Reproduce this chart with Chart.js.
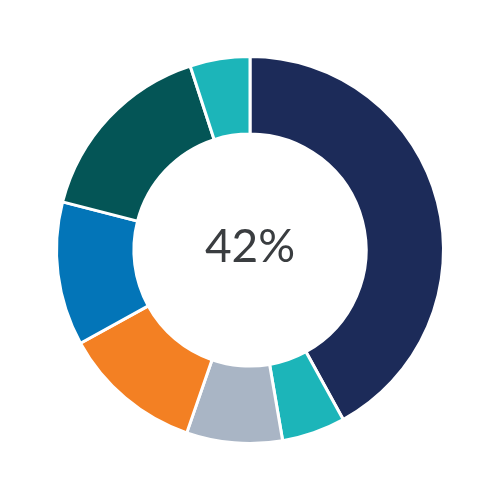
<!DOCTYPE html>
<html>
<head>
<meta charset="utf-8">
<script src="https://cdn.jsdelivr.net/npm/chart.js@4"></script>
<style>
html,body{margin:0;padding:0;background:#fff;}
#wrap{width:500px;height:500px;}
</style>
</head>
<body>
<div id="wrap"><canvas id="c" width="500" height="500"></canvas></div>
<script>
const labels = ['A','B','C','D','E','F','G'];
const values = [42, 5.3, 8, 11.7, 12, 16, 5];
const colors = ['#1c2b59','#1cb5b9','#a9b5c5','#f38023','#0375b8','#045556','#1cb5b9'];
const centerText = '42%';

const centerPlugin = {
  id: 'centerText',
  afterDraw(chart) {
    const ctx = chart.ctx;
    const meta = chart.getDatasetMeta(0);
    const arc = meta.data[0];
    ctx.save();
    ctx.font = '400 46px Lato, "Open Sans", sans-serif';
    ctx.fillStyle = '#3a3d40';
    ctx.textAlign = 'center';
    ctx.textBaseline = 'middle';
    ctx.fillText(centerText, arc.x, arc.y - 3);
    ctx.restore();
  }
};

new Chart(document.getElementById('c'), {
  type: 'doughnut',
  data: {
    labels: labels,
    datasets: [{
      data: values,
      backgroundColor: colors,
      borderColor: '#ffffff',
      borderWidth: 3,
      hoverOffset: 0
    }]
  },
  options: {
    responsive: false,
    animation: false,
    cutout: '60%',
    layout: { padding: 55 },
    plugins: { legend: { display: false }, tooltip: { enabled: false } }
  },
  plugins: [centerPlugin]
});
</script>
</body>
</html>
